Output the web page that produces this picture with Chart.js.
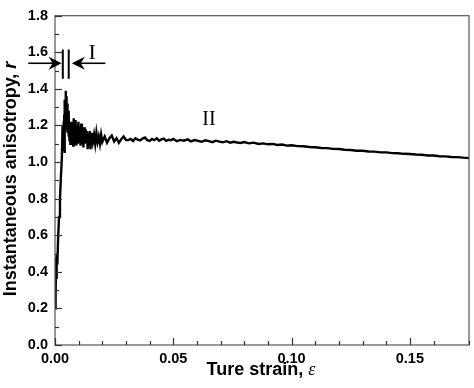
<!DOCTYPE html>
<html>
<head>
<meta charset="utf-8">
<style>
  html, body { margin: 0; padding: 0; background: #fff; }
  #wrap { width: 474px; height: 388px; }
</style>
<script src="https://cdn.jsdelivr.net/npm/chart.js@4.4.1/dist/chart.umd.min.js"></script>
</head>
<body>
<div id="wrap"><canvas id="chart" width="474" height="388"></canvas></div>
<script>
const strain = [
  0.0000, 0.0002, 0.0003, 0.0005, 0.0006, 0.0008, 0.0010, 0.0013, 0.0017, 0.0021, 0.0025, 0.0029,
  0.0032, 0.0034, 0.0036, 0.0037, 0.0039, 0.0040, 0.0042, 0.0043, 0.0045, 0.0046, 0.0048, 0.0049,
  0.0051, 0.0053, 0.0055, 0.0057, 0.0059, 0.0061, 0.0063, 0.0065, 0.0067, 0.0069, 0.0071, 0.0073,
  0.0075, 0.0077, 0.0079, 0.0081, 0.0083, 0.0085, 0.0087, 0.0090, 0.0093, 0.0096, 0.0099, 0.0102,
  0.0105, 0.0108, 0.0111, 0.0114, 0.0117, 0.0120, 0.0123, 0.0126, 0.0129, 0.0132, 0.0135, 0.0138,
  0.0141, 0.0144, 0.0147, 0.0150, 0.0155, 0.0160, 0.0165, 0.0170, 0.0175, 0.0180, 0.0185, 0.0190,
  0.0195, 0.0200,
  0.0210, 0.0220, 0.0230, 0.0240, 0.0250, 0.0260, 0.0270, 0.0280, 0.0290, 0.0300,
  0.0310, 0.0320, 0.0330, 0.0340, 0.0350, 0.0360, 0.0370, 0.0380, 0.0390, 0.0400,
  0.0410, 0.0420, 0.0430, 0.0440, 0.0450, 0.0460, 0.0470, 0.0480, 0.0490, 0.0500,
  0.0515, 0.0530, 0.0545, 0.0560, 0.0575, 0.0590, 0.0605, 0.0620, 0.0635, 0.0650,
  0.0665, 0.0680, 0.0695, 0.0710, 0.0725, 0.0740, 0.0755, 0.0770, 0.0785, 0.0800,
  0.0820, 0.0840, 0.0860, 0.0880, 0.0900, 0.0920, 0.0940, 0.0960, 0.0980, 0.1000,
  0.1025, 0.1050, 0.1075, 0.1100, 0.1125, 0.1150, 0.1175, 0.1200, 0.1225, 0.1250,
  0.1275, 0.1300, 0.1325, 0.1350, 0.1375, 0.1400, 0.1425, 0.1450, 0.1475, 0.1500,
  0.1525, 0.1550, 0.1575, 0.1600, 0.1625, 0.1650, 0.1675, 0.1700, 0.1725, 0.1750,
];

const anisotropy = [
  0.20, 0.42, 0.28, 0.48, 0.36, 0.50, 0.44, 0.58, 0.70, 0.80, 0.92, 1.02,
  1.20, 1.12, 1.22, 1.06, 1.26, 1.05, 1.34, 1.18, 1.39, 1.20, 1.36, 1.18,
  1.32, 1.16, 1.28, 1.14, 1.25, 1.12, 1.22, 1.10, 1.20, 1.12, 1.22, 1.10,
  1.22, 1.09, 1.24, 1.11, 1.21, 1.10, 1.23, 1.09, 1.20, 1.10, 1.22, 1.11,
  1.19, 1.09, 1.21, 1.10, 1.18, 1.08, 1.19, 1.10, 1.18, 1.11, 1.17, 1.07,
  1.16, 1.10, 1.17, 1.07, 1.16, 1.11, 1.15, 1.10, 1.16, 1.11, 1.14, 1.10,
  1.15, 1.11,
  1.140, 1.105, 1.130, 1.145, 1.112, 1.130, 1.105, 1.125, 1.140, 1.120,
  1.120, 1.126, 1.115, 1.130, 1.122, 1.118, 1.128, 1.134, 1.120, 1.116,
  1.126, 1.120, 1.130, 1.117, 1.124, 1.128, 1.116, 1.122, 1.119, 1.126,
  1.114, 1.121, 1.117, 1.124, 1.113, 1.120, 1.116, 1.111, 1.119, 1.114,
  1.109, 1.117, 1.112, 1.108, 1.114, 1.106, 1.111, 1.107, 1.104, 1.109,
  1.102, 1.106, 1.099, 1.102, 1.097, 1.099, 1.093, 1.096, 1.090, 1.092,
  1.087, 1.086, 1.082, 1.081, 1.077, 1.076, 1.072, 1.071, 1.067, 1.066,
  1.062, 1.062, 1.058, 1.057, 1.053, 1.053, 1.049, 1.048, 1.045, 1.044,
  1.041, 1.040, 1.036, 1.036, 1.032, 1.031, 1.028, 1.027, 1.024, 1.022,
];

const xTickLabels = ["0.00", "0.05", "0.10", "0.15"];
const yTickLabels = ["0.0", "0.2", "0.4", "0.6", "0.8", "1.0", "1.2", "1.4", "1.6", "1.8"];

// stage markers, in data units
const stageBars = [0.0033, 0.0058];
const stageBarSpan = [1.455, 1.615];
const arrowLevel = 1.54;
const arrowLeft = { tail: -0.0113, tip: 0.0028 };
const arrowRight = { tail: 0.0213, tip: 0.0071 };
const stageLabels = [
  { text: "I", x: 0.0157, y: 1.597, size: 22 },
  { text: "II", x: 0.0651, y: 1.229, size: 20 },
];

const SANS = "'Liberation Sans', Arial, sans-serif";
const SERIF = "'Liberation Serif', 'Times New Roman', serif";
const AXIS = "#555";

const points = strain.map((x, i) => ({ x, y: anisotropy[i] }));

function isLabelled(value, labels, digits) {
  return labels.includes(Number(value).toFixed(digits));
}

function arrowHead(ctx, tipX, y, dir) {
  // dir = 1 points right, -1 points left
  const len = 13;
  const half = 6.5;
  ctx.beginPath();
  ctx.moveTo(tipX, y);
  ctx.lineTo(tipX - dir * len, y - half);
  ctx.lineTo(tipX - dir * (len - 4), y);
  ctx.lineTo(tipX - dir * len, y + half);
  ctx.closePath();
  ctx.fill();
}

const framePlugin = {
  id: "frame",
  afterDraw(chart) {
    const { ctx, chartArea: area, scales } = chart;
    const xs = scales.x;
    const ys = scales.y;
    ctx.save();

    ctx.strokeStyle = AXIS;
    ctx.lineWidth = 1.2;
    ctx.strokeRect(area.left, area.top, area.right - area.left, area.bottom - area.top);

    // inward ticks
    ctx.strokeStyle = "#333";
    ys.ticks.forEach((t) => {
      const y = Math.round(ys.getPixelForValue(t.value)) + 0.5;
      const len = isLabelled(t.value, yTickLabels, 1) ? 7 : 4;
      ctx.beginPath();
      ctx.moveTo(area.left, y);
      ctx.lineTo(area.left + len, y);
      ctx.stroke();
    });
    xs.ticks.forEach((t) => {
      const x = Math.round(xs.getPixelForValue(t.value)) + 0.5;
      const len = isLabelled(t.value, xTickLabels, 2) ? 7 : 4;
      ctx.beginPath();
      ctx.moveTo(x, area.bottom);
      ctx.lineTo(x, area.bottom - len);
      ctx.stroke();
    });

    // stage I markers
    ctx.strokeStyle = "#000";
    ctx.fillStyle = "#000";
    ctx.lineWidth = 2;
    const top = ys.getPixelForValue(stageBarSpan[1]);
    const bottom = ys.getPixelForValue(stageBarSpan[0]);
    stageBars.forEach((v) => {
      const x = xs.getPixelForValue(v);
      ctx.beginPath();
      ctx.moveTo(x, top);
      ctx.lineTo(x, bottom);
      ctx.stroke();
    });
    const ay = ys.getPixelForValue(arrowLevel);
    ctx.lineWidth = 1.6;
    [[arrowLeft, 1], [arrowRight, -1]].forEach(([a, dir]) => {
      const tail = xs.getPixelForValue(a.tail);
      const tip = xs.getPixelForValue(a.tip);
      ctx.beginPath();
      ctx.moveTo(tail, ay);
      ctx.lineTo(tip - dir * 8, ay);
      ctx.stroke();
      arrowHead(ctx, tip, ay, dir);
    });

    ctx.textAlign = "center";
    ctx.textBaseline = "middle";
    stageLabels.forEach((l) => {
      ctx.font = `${l.size}px ${SERIF}`;
      ctx.fillText(l.text, xs.getPixelForValue(l.x), ys.getPixelForValue(l.y));
    });

    // axis titles with mixed fonts
    ctx.textBaseline = "alphabetic";
    ctx.textAlign = "left";
    const xMain = "Ture strain, ";
    const xSym = "\u03b5";
    const mainFont = `bold 18px ${SANS}`;
    const symFont = `italic 18px ${SERIF}`;
    ctx.font = mainFont;
    const w1 = ctx.measureText(xMain).width;
    ctx.font = symFont;
    const w2 = ctx.measureText(xSym).width;
    const x0 = 261 - (w1 + w2) / 2;
    ctx.font = mainFont;
    ctx.fillText(xMain, x0, 375);
    ctx.font = symFont;
    ctx.fillText(xSym, x0 + w1, 375);

    const yMain = "Instantaneous anisotropy, ";
    const ySym = "r";
    const ySymFont = `bold italic 18px ${SANS}`;
    ctx.font = mainFont;
    const h1 = ctx.measureText(yMain).width;
    ctx.font = ySymFont;
    const h2 = ctx.measureText(ySym).width;
    ctx.translate(16, 179);
    ctx.rotate(-Math.PI / 2);
    const s0 = -(h1 + h2) / 2;
    ctx.font = mainFont;
    ctx.fillText(yMain, s0, 0);
    ctx.font = ySymFont;
    ctx.fillText(ySym, s0 + h1, 0);

    ctx.restore();
  },
};

new Chart(document.getElementById("chart"), {
  type: "line",
  data: {
    datasets: [
      {
        data: points,
        borderColor: "#000",
        borderWidth: 2.4,
        pointRadius: 0,
        tension: 0,
        fill: false,
      },
    ],
  },
  options: {
    responsive: false,
    animation: false,
    events: [],
    layout: { padding: { top: 8, right: 1, left: 0, bottom: 0 } },
    plugins: { legend: { display: false }, tooltip: { enabled: false } },
    scales: {
      x: {
        type: "linear",
        min: 0,
        max: 0.175,
        grid: { display: false, drawTicks: false },
        border: { display: false },
        ticks: {
          stepSize: 0.01,
          autoSkip: false,
          maxRotation: 0,
          padding: 5,
          color: "#000",
          font: { family: SANS, size: 14.5, weight: "bold" },
          callback: (v) => (isLabelled(v, xTickLabels, 2) ? Number(v).toFixed(2) : ""),
        },
        afterFit: (scale) => { scale.height = 43; },
      },
      y: {
        min: 0,
        max: 1.8,
        grid: { display: false, drawTicks: false },
        border: { display: false },
        ticks: {
          stepSize: 0.1,
          autoSkip: false,
          padding: 7,
          color: "#000",
          font: { family: SANS, size: 14.5, weight: "bold" },
          callback: (v) => (isLabelled(v, yTickLabels, 1) ? Number(v).toFixed(1) : ""),
        },
        afterFit: (scale) => { scale.width = 55; },
      },
    },
  },
  plugins: [framePlugin],
});
</script>
</body>
</html>
